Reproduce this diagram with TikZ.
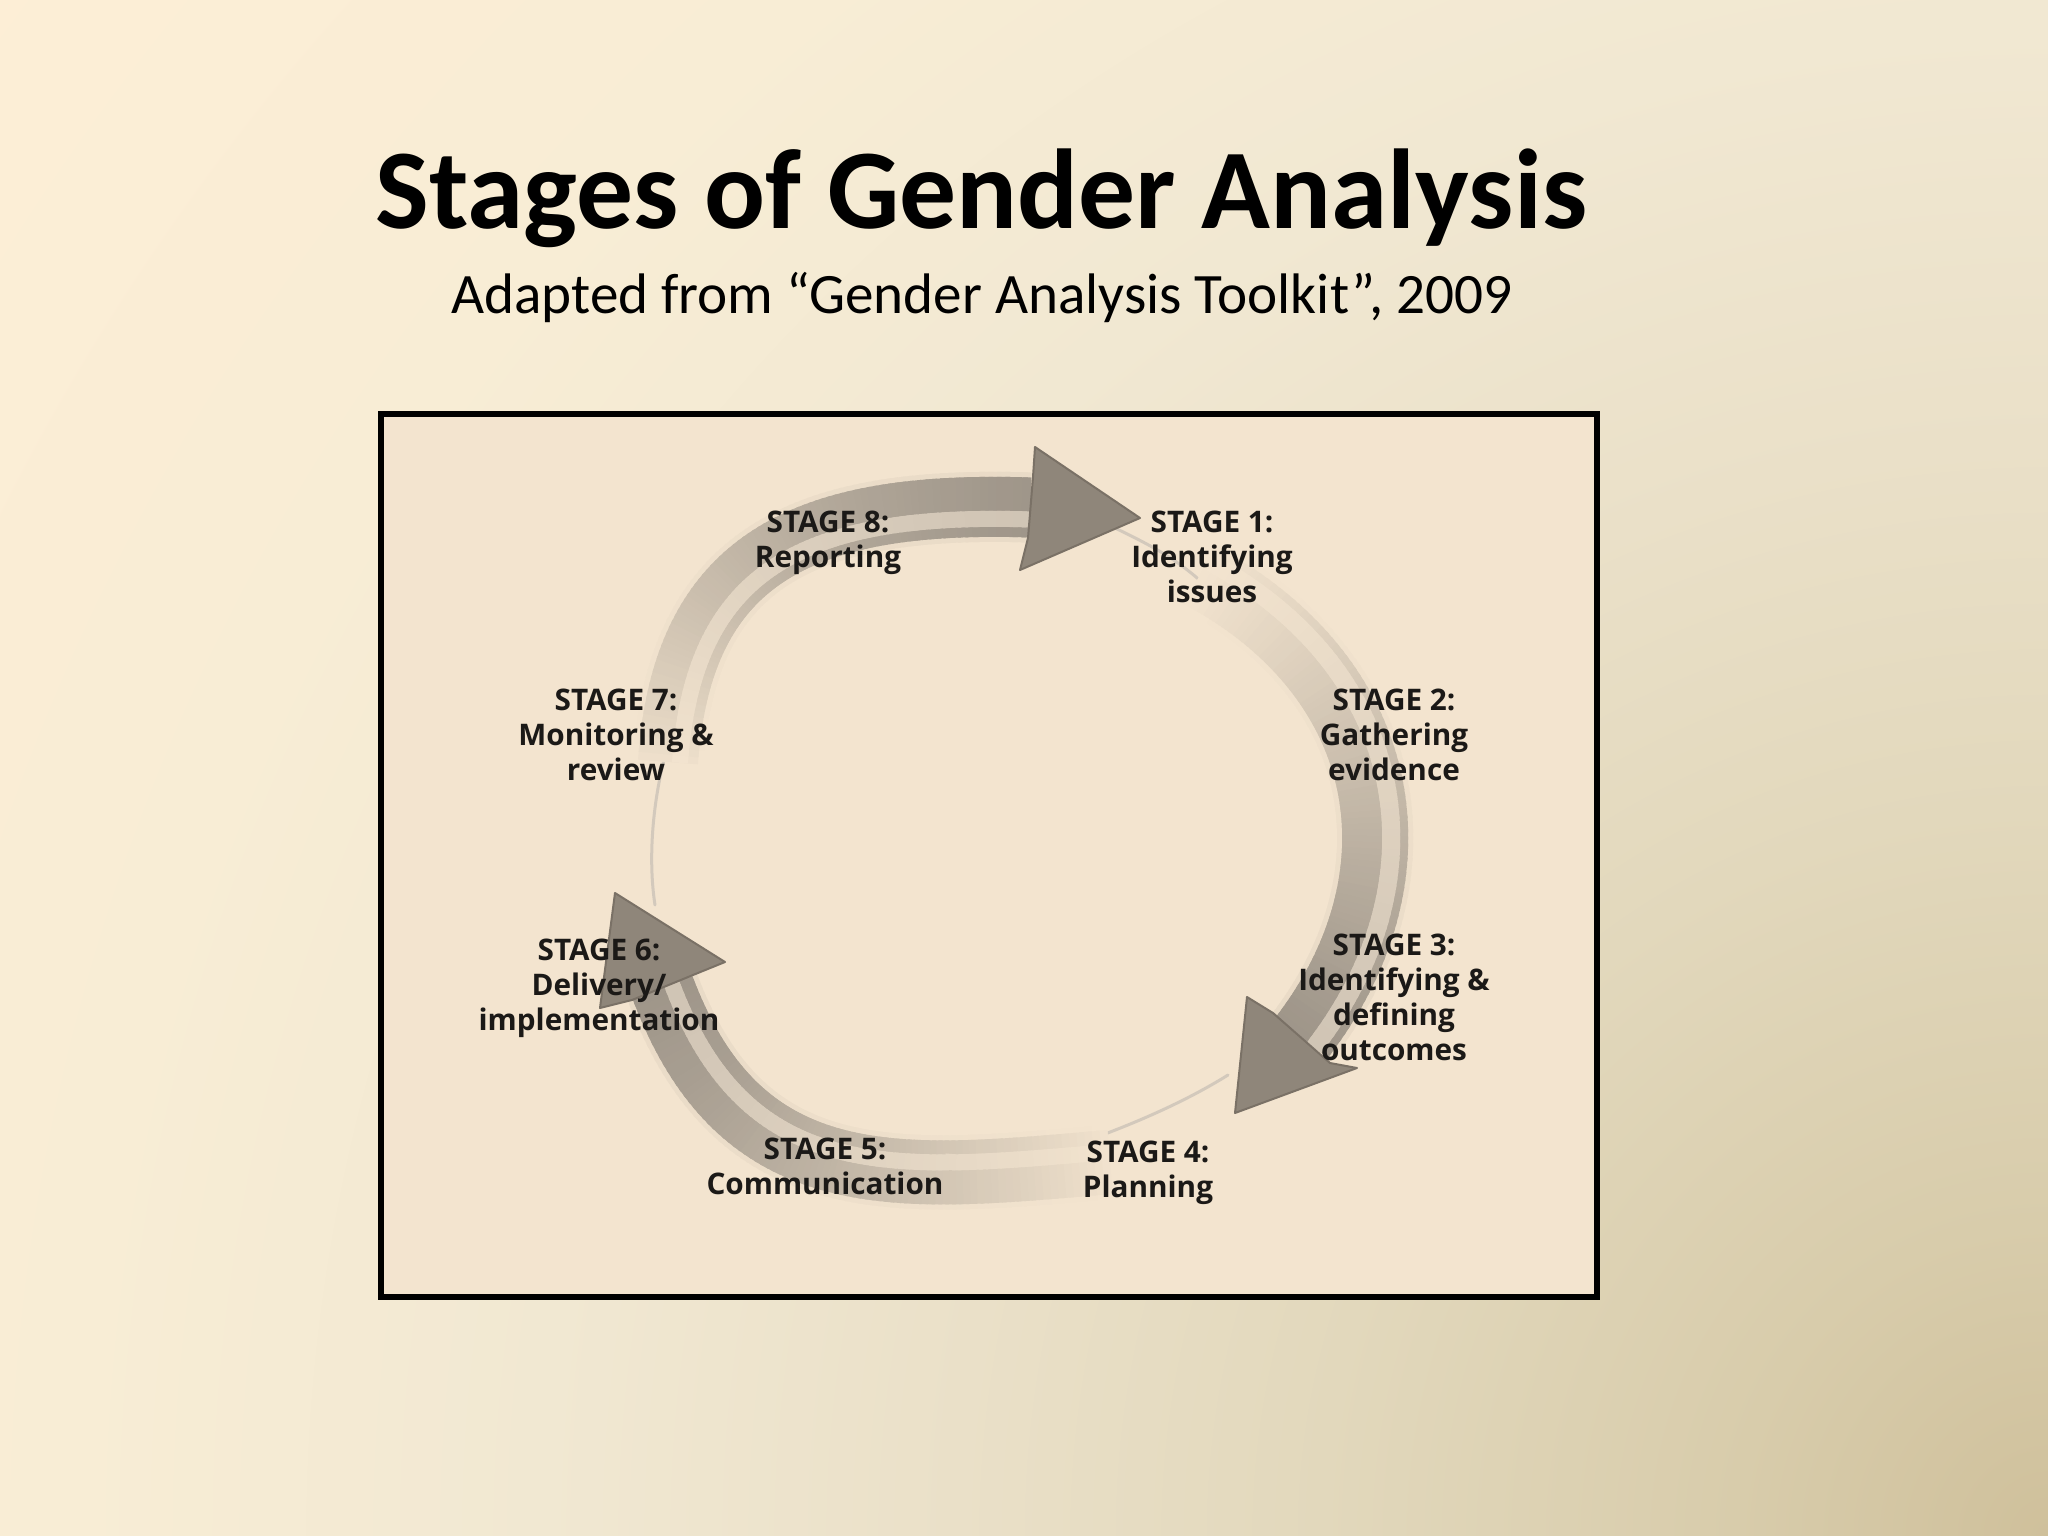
\documentclass[tikz,border=0pt]{standalone}
\usepackage{fontspec}
\setmainfont{Carlito}
\newfontfamily\labelfont{Open Sans}
\definecolor{bgA}{HTML}{CFC09B}
\definecolor{bgB}{HTML}{D8CCAB}
\definecolor{bgC}{HTML}{E2D8BC}
\definecolor{bgD}{HTML}{EAE0C8}
\definecolor{bgE}{HTML}{F1E8D2}
\definecolor{bgF}{HTML}{F8EDD5}
\definecolor{bgG}{HTML}{FDEED6}
\definecolor{boxfill}{HTML}{F3E4CF}
\definecolor{arrowc}{HTML}{9E9589}
\definecolor{headc}{HTML}{8F867A}
\definecolor{headedge}{HTML}{7A7166}
\definecolor{hilite}{HTML}{B8AFA3}
\definecolor{shadowc}{HTML}{CFC3B2}
\definecolor{thinl}{HTML}{D3C9BC}
\definecolor{labeltext}{HTML}{1B1917}
\pgfdeclareradialshading{bgshade}{\pgfpoint{0bp}{0bp}}{color(0bp)=(bgA); color(3bp)=(bgB); color(7bp)=(bgC); color(10.5bp)=(bgD); color(14.5bp)=(bgE); color(19bp)=(bgF); color(25bp)=(bgG); color(50bp)=(bgG)}
\newcommand\setbez[8]{\def\Pax{#1}\def\Pay{#2}\def\Pbx{#3}\def\Pby{#4}\def\Pcx{#5}\def\Pcy{#6}\def\Pdx{#7}\def\Pdy{#8}}
\newcommand\bezat[1]{%
  \pgfmathsetmacro\BZu{#1}%
  \pgfmathsetmacro\BZv{1-\BZu}%
  \pgfmathsetmacro\BZx{\BZv*\BZv*\BZv*\Pax+3*\BZv*\BZv*\BZu*\Pbx+3*\BZv*\BZu*\BZu*\Pcx+\BZu*\BZu*\BZu*\Pdx}%
  \pgfmathsetmacro\BZy{\BZv*\BZv*\BZv*\Pay+3*\BZv*\BZv*\BZu*\Pby+3*\BZv*\BZu*\BZu*\Pcy+\BZu*\BZu*\BZu*\Pdy}%
  \pgfmathsetmacro\BZdx{0.03*(\BZv*\BZv*(\Pbx-\Pax)+2*\BZv*\BZu*(\Pcx-\Pbx)+\BZu*\BZu*(\Pdx-\Pcx))}%
  \pgfmathsetmacro\BZdy{0.03*(\BZv*\BZv*(\Pby-\Pay)+2*\BZv*\BZu*(\Pcy-\Pby)+\BZu*\BZu*(\Pdy-\Pcy))}%
  \pgfmathsetmacro\BZl{max(0.001,veclen(\BZdx,\BZdy))}%
  \pgfmathsetmacro\BZnx{0-(\BZdy)/\BZl}%
  \pgfmathsetmacro\BZny{(\BZdx)/\BZl}%
}
% #1 width px, #2 offset px (+ = inward), #3 pct at tail, #4 pct at head, #5 colour, #6 gamma
\newcommand\bandpass[6]{%
  \foreach \i in {0,...,79}{%
    \bezat{\i/80}%
    \let\xA\BZx \let\yA\BZy \let\nxA\BZnx \let\nyA\BZny
    \bezat{min(1,(\i+1.6)/80)}%
    \pgfmathtruncatemacro\pc{#3+(#4-#3)*(((\i+0.5)/80)^(#6))}%
    \draw[line width=#1*0.01cm, color=#5!\pc!boxfill]
      ({\xA+(#2)*(\nxA)},{\yA+(#2)*(\nyA)}) -- ({\BZx+(#2)*(\BZnx)},{\BZy+(#2)*(\BZny)});
  }}
\tikzset{
  stagelabel/.style={font=\labelfont\bfseries\fontsize{8.45}{9.96}\selectfont, align=center, anchor=north, inner sep=0pt, text=labeltext},
  headshape/.style={fill=headc, draw=headedge, line width=0.02cm, line join=round},
  faintline/.style={draw=thinl, line width=0.03cm, line cap=round},
  frame/.style={draw=black, line width=0.06cm, fill=boxfill, inner sep=0pt, minimum width=12.16cm, minimum height=8.83cm}
}
\begin{document}
\begin{tikzpicture}[x=0.01cm, y=-0.01cm]
\useasboundingbox (0,0) rectangle (2048,1536);
\begin{scope}
  \clip (0,0) rectangle (2048,1536);
  \shade[shading=bgshade] (-552,-1064) rectangle (4648,4136);
\end{scope}

% title
\node[font=\bfseries\fontsize{32.3}{38}\selectfont, anchor=base, inner sep=0pt] (title) at (981.5,228) {Stages of Gender Analysis};
\node[font=\fontsize{16.25}{19}\selectfont, anchor=base, inner sep=0pt] (subtitle) at (982,313) {Adapted from “Gender Analysis Toolkit”, 2009};

% framed picture
\node[frame] (box) at (989,855.5) {};

% faint continuation lines of the ring
\draw[faintline] (668,745) .. controls (652,800) and (648,860) .. (655,905);
\draw[faintline] (1228,1075) .. controls (1180,1105) and (1120,1130) .. (1060,1150);
\draw[faintline] (1115,528) .. controls (1150,545) and (1180,560) .. (1210,590);

% arrow 1: stage 7/8 -> stage 1
\setbez{668}{762}{682}{560}{800}{500}{1030.5}{507.5}
\bandpass{70}{0}{0}{28}{shadowc}{0.7}
\bandpass{60}{0}{4}{100}{arrowc}{0.7}
\bandpass{16}{12}{0}{60}{hilite}{0.7}
\filldraw[headshape] (1033,477) -- (1035,447) -- (1140,518) -- (1020,570) -- (1028,538) -- cycle;

% arrow 2: stage 1 -> stage 3
\setbez{1200}{575}{1395}{680}{1425}{878}{1301.5}{1038}
\bandpass{76}{0}{0}{28}{shadowc}{0.9}
\bandpass{66}{0}{0}{100}{arrowc}{0.9}
\bandpass{18}{-16}{0}{60}{hilite}{0.9}
\filldraw[headshape] (1273,1013) -- (1247,997) -- (1235,1113) -- (1357,1068) -- (1330,1063) -- cycle;

% arrow 3: stage 5 -> stage 6
\setbez{1110}{1162}{900}{1180}{742}{1200}{662.5}{987.5}
\bandpass{74}{0}{0}{28}{shadowc}{0.75}
\bandpass{64}{0}{0}{100}{arrowc}{0.75}
\bandpass{16}{10}{0}{60}{hilite}{0.75}
\filldraw[headshape] (693,975) -- (725,962) -- (615,893) -- (600,1008) -- (632,1000) -- cycle;

% stage labels
\node[stagelabel] (s8) at (828,510) {STAGE 8:\\Reporting};
\node[stagelabel] (s1) at (1212,510) {STAGE 1:\\Identifying\\issues};
\node[stagelabel] (s2) at (1394,688) {STAGE 2:\\Gathering\\evidence};
\node[stagelabel] (s3) at (1394,933) {STAGE 3:\\Identifying \&\\defining\\outcomes};
\node[stagelabel] (s4) at (1148,1140) {STAGE 4:\\Planning};
\node[stagelabel] (s5) at (825,1137) {STAGE 5:\\Communication};
\node[stagelabel] (s6) at (599,938) {STAGE 6:\\Delivery/\\implementation};
\node[stagelabel] (s7) at (616,688) {STAGE 7:\\Monitoring \&\\review};
\end{tikzpicture}
\end{document}
